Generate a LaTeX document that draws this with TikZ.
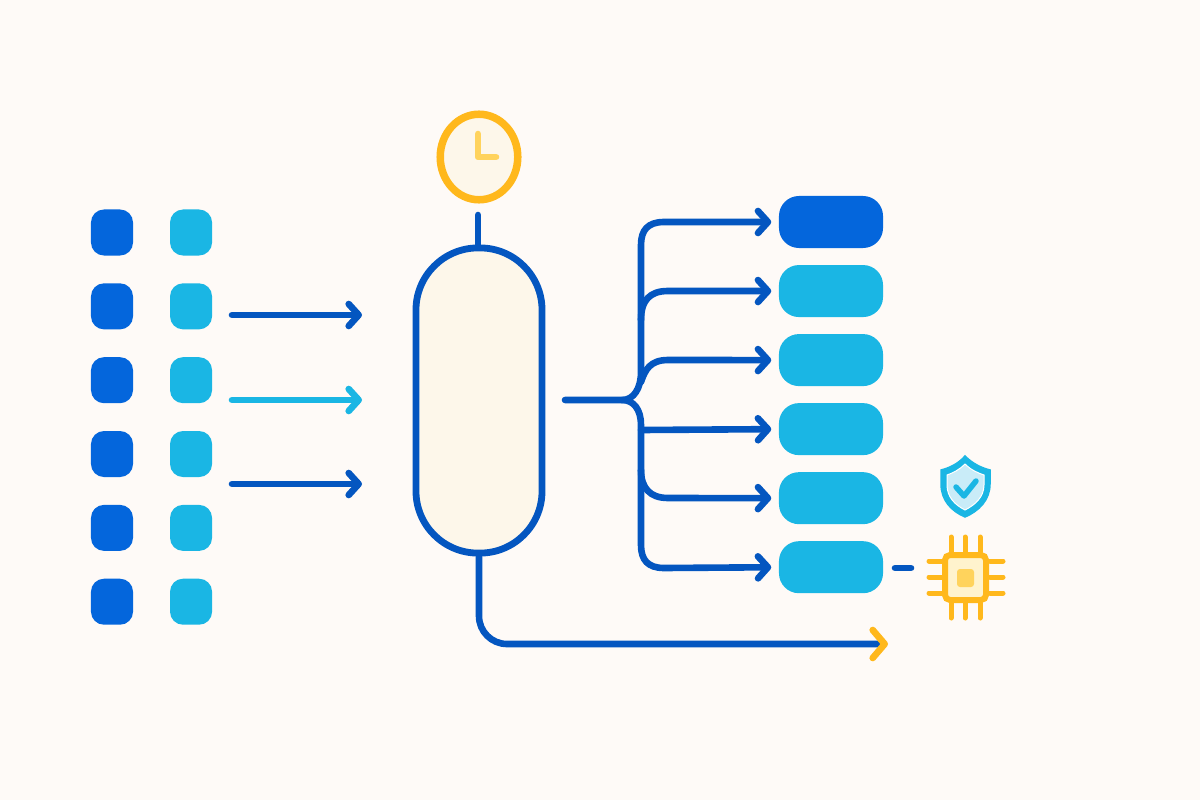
\documentclass[tikz,border=0pt]{standalone}
\usepackage{xcolor}
\usepackage{tikz}
\usetikzlibrary{shapes.geometric, arrows.meta}

\definecolor{paper}{HTML}{FEFAF7}
\definecolor{wireblue}{HTML}{0456C0}
\definecolor{deepblue}{HTML}{0466DC}
\definecolor{skyblue}{HTML}{1AB6E4}
\definecolor{amber}{HTML}{FFB81C}
\definecolor{softamber}{HTML}{FFD35C}
\definecolor{cream}{HTML}{FDF7EA}
\definecolor{paleamber}{HTML}{FFF3CD}
\definecolor{paleblue}{HTML}{C9ECF8}

\begin{document}
\begin{tikzpicture}[x=0.01cm, y=-0.01cm, node distance=0.738cm]
\tikzstyle{deepblock} = [rectangle, rounded corners=0.13cm, minimum width=0.42cm, minimum height=0.46cm, inner sep=0pt, fill=deepblue]
\tikzstyle{skyblock} = [rectangle, rounded corners=0.13cm, minimum width=0.42cm, minimum height=0.46cm, inner sep=0pt, fill=skyblue]
\tikzstyle{deepbar} = [rectangle, rounded corners=0.2cm, minimum width=1.04cm, minimum height=0.52cm, inner sep=0pt, fill=deepblue]
\tikzstyle{skybar} = [rectangle, rounded corners=0.2cm, minimum width=1.04cm, minimum height=0.52cm, inner sep=0pt, fill=skyblue]
\tikzstyle{tank} = [rectangle, rounded corners=0.62cm, minimum width=1.26cm, minimum height=3.05cm, inner sep=0pt, draw=wireblue, fill=cream, line width=0.68mm]
\tikzstyle{dial} = [ellipse, minimum width=0.775cm, minimum height=0.855cm, inner sep=0pt, draw=amber, fill=cream, line width=0.75mm]
\tikzstyle{wire} = [draw=wireblue, line width=0.66mm, line cap=round]
\tikzstyle{arrow} = [wire, -{Straight Barb[round, length=0.1cm, width=0.22cm]}]
\tikzstyle{pin} = [draw=amber, line width=0.5mm, line cap=round]

\fill [paper] (0,0) rectangle (1200,800);
\useasboundingbox (0,0) rectangle (1200,800);

\node (srcA) [deepblock] at (112,232.5) {};
\node (srcB) [deepblock, below of=srcA] {};
\node (srcC) [deepblock, below of=srcB] {};
\node (srcD) [deepblock, below of=srcC] {};
\node (srcE) [deepblock, below of=srcD] {};
\node (srcF) [deepblock, below of=srcE] {};
\node (altA) [skyblock, right of=srcA, xshift=0.052cm] {};
\node (altB) [skyblock, right of=srcB, xshift=0.052cm] {};
\node (altC) [skyblock, right of=srcC, xshift=0.052cm] {};
\node (altD) [skyblock, right of=srcD, xshift=0.052cm] {};
\node (altE) [skyblock, right of=srcE, xshift=0.052cm] {};
\node (altF) [skyblock, right of=srcF, xshift=0.052cm] {};

\node (outA) [deepbar] at (831,222) {};
\node (outB) [skybar, below of=outA, yshift=0.048cm] {};
\node (outC) [skybar, below of=outB, yshift=0.048cm] {};
\node (outD) [skybar, below of=outC, yshift=0.048cm] {};
\node (outE) [skybar, below of=outD, yshift=0.048cm] {};
\node (outF) [skybar, below of=outE, yshift=0.048cm] {};

\coordinate (stemtop) at (478,215);
\coordinate (feedA) at (232,315);
\coordinate (feedAend) at (362,315);
\coordinate (feedB) at (232,400);
\coordinate (feedBend) at (362,400);
\coordinate (feedC) at (232,484);
\coordinate (feedCend) at (362,484);
\coordinate (hub) at (565,400);
\coordinate (drain) at (888,644);
\coordinate (linkA) at (895,568);
\coordinate (linkB) at (911,568);

\draw [wire] (stemtop) -- (478,252);
\node (vessel) [tank] at (479,400.5) {};
\node (clock) [dial] at (479,157) {};
\draw [line width=0.66mm, line cap=round, line join=round, draw=softamber] (478,134) -- (478,157) -- (496,157);

\draw [arrow] (feedA) -- (feedAend);
\draw [arrow, draw=skyblue] (feedB) -- (feedBend);
\draw [arrow] (feedC) -- (feedCend);

\draw [arrow, shorten >=0.07cm] (hub) -- (622,400) .. controls (634,400) and (641,388) .. (641,372) -- (641,245) .. controls (641,230) and (648,222) .. (664,222) -- (outA.west);
\draw [arrow, shorten >=0.07cm] (622,400) .. controls (634,400) and (641,410) .. (641,425) -- (641,545) .. controls (641,560) and (648,568) .. (664,568) -- (outF.west);
\draw [arrow, shorten >=0.07cm] (641,320) .. controls (641,300) and (650,291) .. (668,291) -- (outB.west);
\draw [arrow, shorten >=0.07cm] (641,382) .. controls (645,370) and (650,360) .. (668,360) -- (outC.west);
\draw [arrow, shorten >=0.07cm] (641,430) -- (outD.west);
\draw [arrow, shorten >=0.07cm] (641,470) .. controls (641,488) and (650,498) .. (668,498) -- (outE.west);

\draw [wire, rounded corners=0.28cm, -{Straight Barb[round, length=0.12cm, width=0.28cm, color=amber]}] (vessel.south) |- (drain);
\draw [wire] (linkA) -- (linkB);

\draw [fill=skyblue, draw=skyblue, line width=0.15mm] (965,456) .. controls (973,464) and (982,468) .. (990,470) -- (990,484) .. controls (990,500) and (979,511) .. (965,517) .. controls (951,511) and (941,500) .. (941,484) -- (941,470) .. controls (949,468) and (958,464) .. (965,456) -- cycle;
\draw [fill=paleblue, draw=white, line width=0.1mm] (965,464) .. controls (971,470) and (978,473) .. (984,475) -- (984,485) .. controls (984,497) and (975,505) .. (965,510) .. controls (955,505) and (947,497) .. (947,485) -- (947,475) .. controls (953,473) and (959,470) .. (965,464) -- cycle;
\draw [draw=skyblue, line width=0.55mm, line cap=round, line join=round] (956,487) -- (964,496) -- (976,481);

\draw [pin] (951,537) -- (951,552);
\draw [pin] (965,537) -- (965,552);
\draw [pin] (980,537) -- (980,552);
\draw [pin] (951,603) -- (951,618);
\draw [pin] (965,603) -- (965,618);
\draw [pin] (980,603) -- (980,618);
\draw [pin] (929,561) -- (942,561);
\draw [pin] (929,577) -- (942,577);
\draw [pin] (929,593) -- (942,593);
\draw [pin] (990,561) -- (1003,561);
\draw [pin] (990,577) -- (1003,577);
\draw [pin] (990,593) -- (1003,593);
\draw [draw=amber, fill=paleamber, line width=0.6mm, rounded corners=0.05cm] (945,555) rectangle (986,600);
\fill [softamber, rounded corners=0.03cm] (957,569) rectangle (974,587);

\end{tikzpicture}
\end{document}
